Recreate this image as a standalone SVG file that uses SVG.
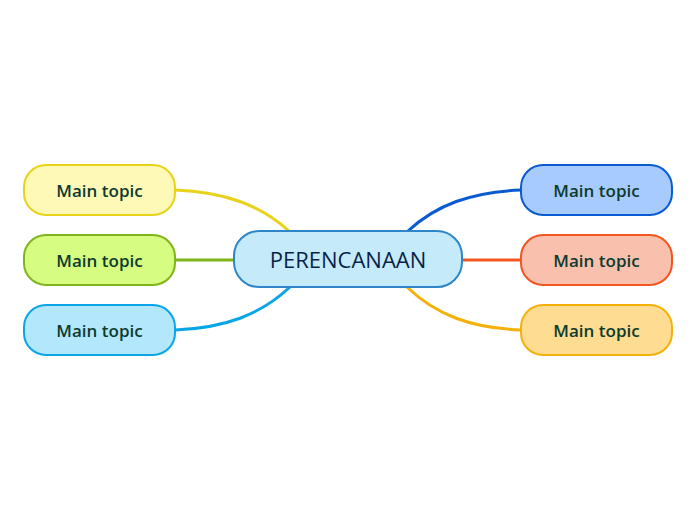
<svg xmlns="http://www.w3.org/2000/svg" width="696" height="520" viewBox="0 0 696 520">
<style>
.t{font-family:"Open Sans","Noto Sans",sans-serif;font-size:17px;font-weight:600;fill:#0d3b2e;text-anchor:middle;dominant-baseline:central}
.c{fill:none;stroke-width:3}
.n{stroke-width:2}
</style>
<rect width="696" height="520" fill="#fff"/>
<g id="connectors">
<path class="c" stroke="#e8d21a" d="M175,190 C225,192 260,205 289,231"/>
<path class="c" stroke="#7fb51a" d="M175,260 L234,260"/>
<path class="c" stroke="#0aa5e6" d="M175,330 C225,328 260,315 290,287"/>
<path class="c" stroke="#0a5ad2" d="M521,190 C471,192 436,205 408,231"/>
<path class="c" stroke="#f0561e" d="M521,260 L462,260"/>
<path class="c" stroke="#f5b10a" d="M521,330 C471,328 436,315 407,287"/>
</g>
<g id="center"><rect x="234" y="231" width="228" height="56" rx="25" fill="#c5ebfb" stroke="#2e86c8" class="n"/><text x="348" y="259" class="t" style="font-size:22px;font-weight:500;fill:#0a1f4a">PERENCANAAN</text></g>
<g id="l1"><rect x="24" y="165" width="151" height="50" rx="22" fill="#fff9b8" stroke="#e8d21a" class="n"/><text x="99.5" y="190" class="t">Main topic</text></g>
<g id="l2"><rect x="24" y="235" width="151" height="50" rx="22" fill="#d6fd82" stroke="#7fb51a" class="n"/><text x="99.5" y="260" class="t">Main topic</text></g>
<g id="l3"><rect x="24" y="305" width="151" height="50" rx="22" fill="#b3e7fb" stroke="#0aa5e6" class="n"/><text x="99.5" y="330" class="t">Main topic</text></g>
<g id="r1"><rect x="521" y="165" width="151" height="50" rx="22" fill="#a8cbfd" stroke="#0a5ad2" class="n"/><text x="596.5" y="190" class="t">Main topic</text></g>
<g id="r2"><rect x="521" y="235" width="151" height="50" rx="22" fill="#f9c1ad" stroke="#f0561e" class="n"/><text x="596.5" y="260" class="t">Main topic</text></g>
<g id="r3"><rect x="521" y="305" width="151" height="50" rx="22" fill="#fedc92" stroke="#f5b10a" class="n"/><text x="596.5" y="330" class="t">Main topic</text></g>
</svg>
